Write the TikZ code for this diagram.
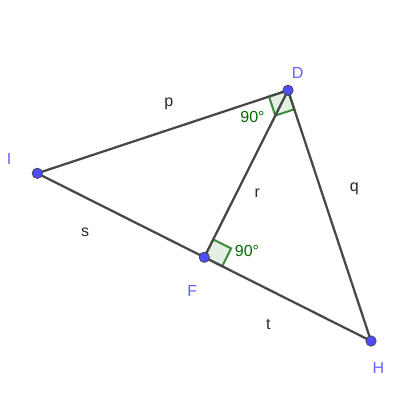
\documentclass[tikz,border=0pt]{standalone}
\usepackage{fontspec}
\setmainfont{Liberation Sans}
\usetikzlibrary{calc}
\definecolor{segc}{RGB}{72,72,72}
\definecolor{ptfill}{RGB}{77,77,255}
\definecolor{ptlab}{RGB}{100,100,255}
\definecolor{angstroke}{RGB}{60,140,60}
\definecolor{angfill}{RGB}{228,240,228}
\definecolor{angtext}{RGB}{0,110,0}
\definecolor{labc}{RGB}{40,40,40}
\begin{document}
\begin{tikzpicture}[x=0.75pt,y=-0.75pt,
  seg/.style={draw=segc,line width=1.7pt},
  ptnode/.style={circle,fill=ptfill,draw=black!75,line width=0.5pt,inner sep=0pt,minimum size=7.8pt},
  ptlabel/.style={text=ptlab,font=\fontsize{12}{14}\selectfont,inner sep=0pt},
  seglabel/.style={text=labc,font=\fontsize{12}{14}\selectfont,inner sep=0pt},
  anglabel/.style={text=angtext,font=\fontsize{12}{14}\selectfont,inner sep=0pt},
  rightangle/.style={draw=angstroke,fill=angfill,line width=1.5pt,line join=miter}]
\useasboundingbox[fill=white] (0,0) rectangle (404,415);
\coordinate (I) at (37.3,173.3);
\coordinate (D) at (288,90.3);
\coordinate (F) at (204.3,257.3);
\coordinate (H) at (371,341);
% right angle at D (between DI and DH)
\coordinate (Da) at ($(D)!15pt!(I)$);
\coordinate (Db) at ($(D)!15pt!(H)$);
\coordinate (Dc) at ($(Da)+(Db)-(D)$);
\draw[rightangle] (D) -- (Da) -- (Dc) -- (Db) -- cycle;
% right angle at F (between FD and FH)
\coordinate (Fa) at ($(F)!15pt!(D)$);
\coordinate (Fb) at ($(F)!15pt!(H)$);
\coordinate (Fc) at ($(Fa)+(Fb)-(F)$);
\draw[rightangle] (F) -- (Fa) -- (Fc) -- (Fb) -- cycle;
% segments
\draw[seg] (I) -- (D);
\draw[seg] (D) -- (H);
\draw[seg] (I) -- (H);
\draw[seg] (F) -- (D);
% points
\node[ptnode] (nI) at (I) {};
\node[ptnode] (nD) at (D) {};
\node[ptnode] (nF) at (F) {};
\node[ptnode] (nH) at (H) {};
% point labels
\node[ptlabel] (lI) at (9,159) {I};
\node[ptlabel] (lD) at (297.7,73) {D};
\node[ptlabel] (lF) at (192.3,290.7) {F};
\node[ptlabel] (lH) at (378.3,368.3) {H};
% segment labels
\node[seglabel] (lp) at (168.7,104) {p};
\node[seglabel] (lq) at (354.3,188.5) {q};
\node[seglabel] (lr) at (257.3,193.5) {r};
\node[seglabel] (ls) at (85,232) {s};
\node[seglabel] (lt) at (268.3,324) {t};
% angle labels
\node[anglabel] (aD) at (252.5,116.5) {90°};
\node[anglabel] (aF) at (247,250.5) {90°};
\end{tikzpicture}
\end{document}
